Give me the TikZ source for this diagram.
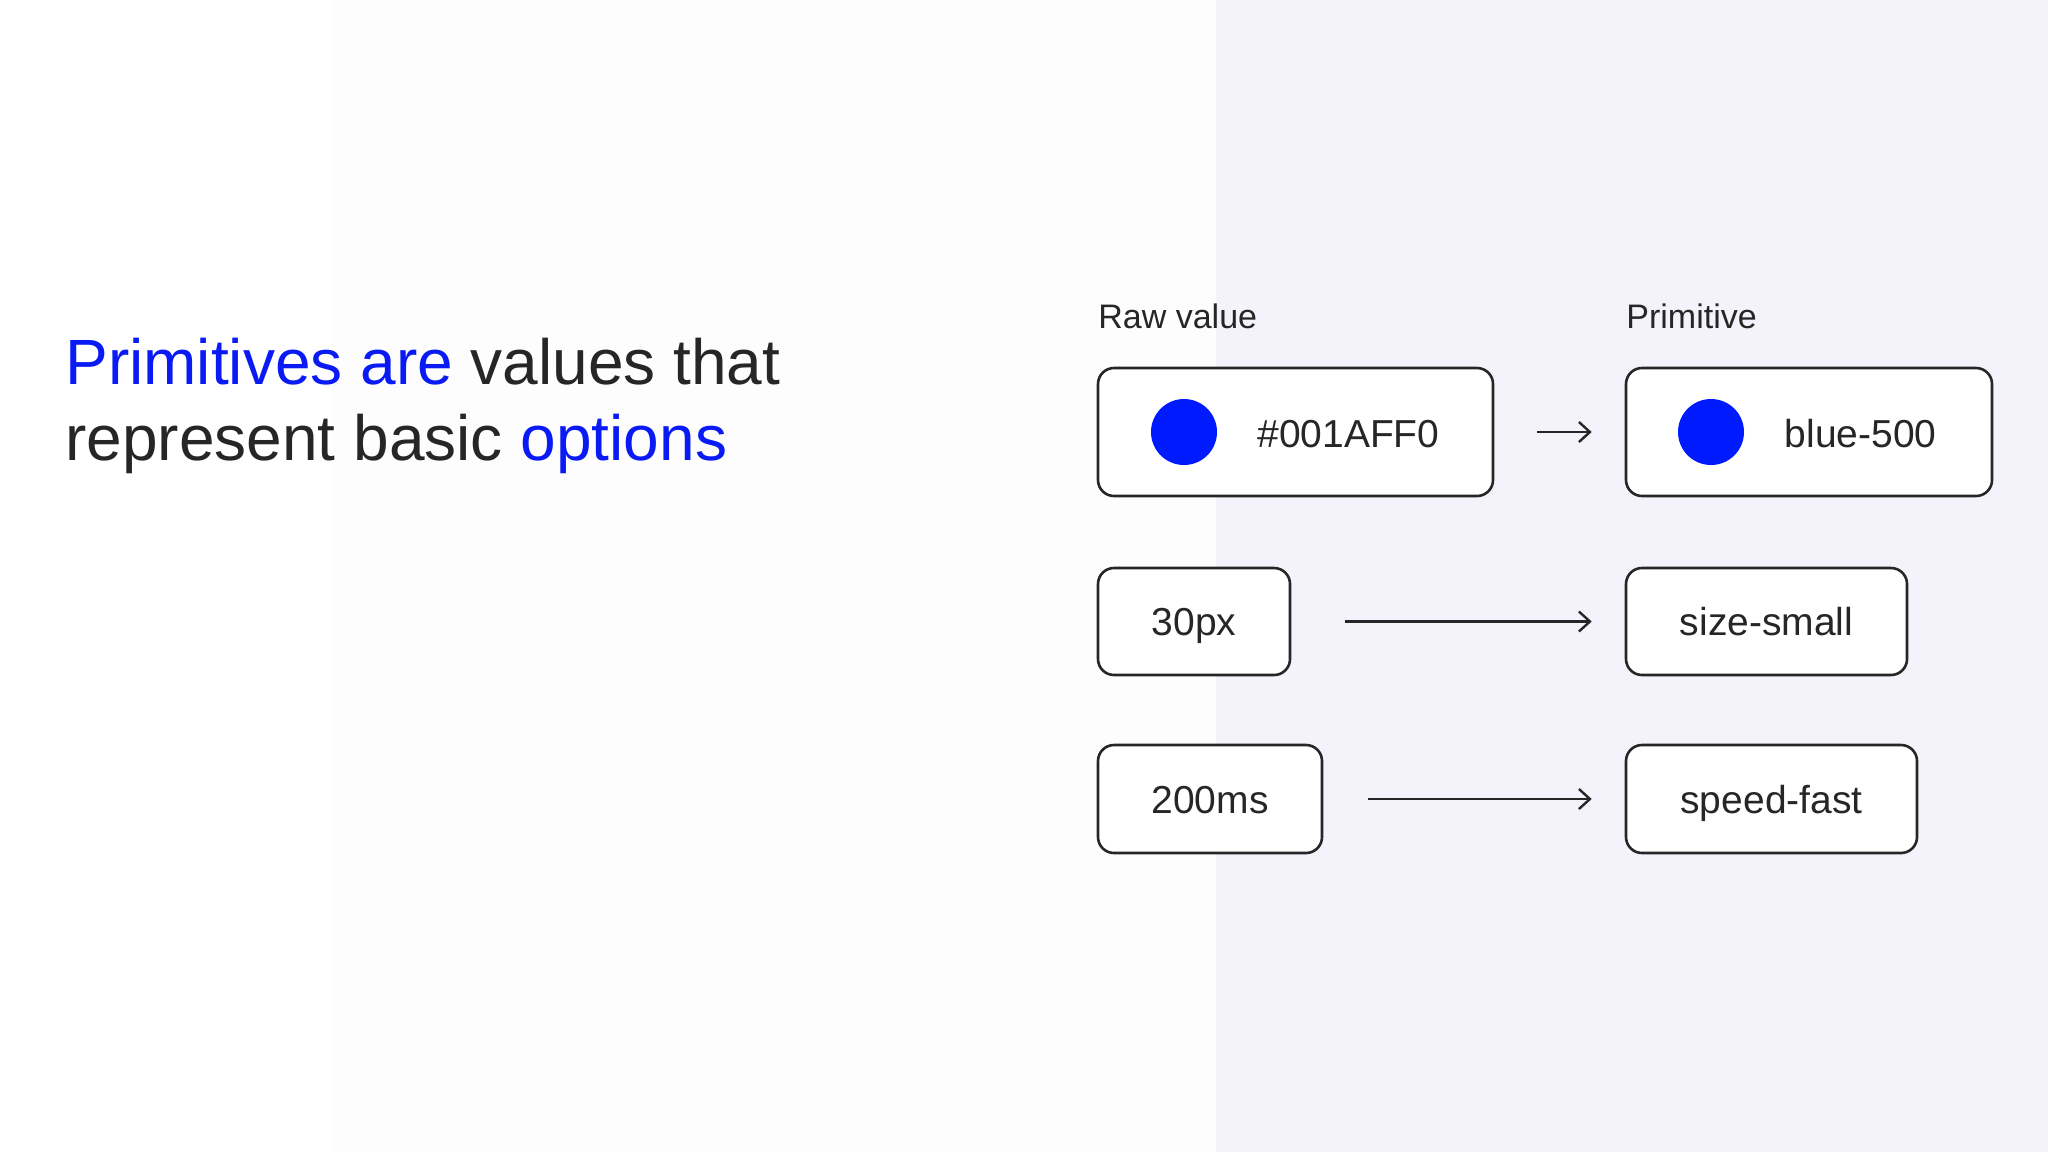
\documentclass[tikz,border=0pt]{standalone}
\usepackage{fontspec}
\setmainfont{Liberation Sans}
\usetikzlibrary{arrows.meta}
\definecolor{ink}{HTML}{262626}
\definecolor{brand}{HTML}{0A1AF5}
\definecolor{dot}{HTML}{001AFF}
\definecolor{panel}{HTML}{F4F3FB}
\definecolor{offwhite}{HTML}{FDFDFD}
\begin{document}
\begin{tikzpicture}[x=0.5pt,y=-0.5pt,
  box/.style={draw=ink, line width=1.3pt, rounded corners=8pt, fill=white, inner sep=0pt},
  boxtext/.style={font=\fontsize{19.5}{23}\selectfont, text=ink, inner sep=0pt},
  head/.style={font=\fontsize{17}{20}\selectfont, text=ink, inner sep=0pt, anchor=base west},
  title/.style={font=\fontsize{32}{38}\selectfont, text=ink, inner sep=0pt, anchor=base west},
  swatch/.style={circle, fill=dot, minimum size=33pt, inner sep=0pt},
  conn/.style={draw=ink, line width=1.2pt, -{Straight Barb[length=5.5pt,width=10pt,line width=1.2pt]}}]
\useasboundingbox (0,0) rectangle (2048,1152);
\fill[white] (0,0) rectangle (2048,1152);
\fill[offwhite] (332,0) rectangle (1216,1152);
\fill[panel] (1216,0) rectangle (2048,1152);

% title
\node[title] (t1) at (65,384) {\textcolor{brand}{Primitives are} values that};
\node[title] (t2) at (65,460) {represent basic \textcolor{brand}{options}};

% column heads
\node[head] (hraw) at (1098,328) {Raw value};
\node[head] (hprim) at (1626,328) {Primitive};

% boxes
\node[box, minimum width=197.5pt, minimum height=64pt] (b1) at (1295.5,432) {};
\node[box, minimum width=183pt, minimum height=64pt] (b2) at (1809,432) {};
\node[box, minimum width=96pt, minimum height=53.5pt] (b3) at (1194,621.5) {};
\node[box, minimum width=140.5pt, minimum height=53.5pt] (b4) at (1766.5,621.5) {};
\node[box, minimum width=112pt, minimum height=54pt] (b5) at (1210,799) {};
\node[box, minimum width=145.5pt, minimum height=54pt] (b6) at (1771.5,799) {};

% swatches
\node[swatch] (c1) at (1184,432) {};
\node[swatch] (c2) at (1711,432) {};

% box texts
\node[boxtext, anchor=base west] (l1) at (1257,447) {\#001AFF0};
\node[boxtext, anchor=base east] (l2) at (1937,447) {blue-500};
\node[boxtext, anchor=base] (l3) at (1194,635) {30px};
\node[boxtext, anchor=base] (l4) at (1766.5,635) {size-small};
\node[boxtext, anchor=base] (l5) at (1210,813) {200ms};
\node[boxtext, anchor=base] (l6) at (1771.5,813) {speed-fast};

% connectors
\draw[conn, shorten <=21.5pt, shorten >=16.5pt] (b1.east) -- (b2.west);
\draw[conn, shorten <=27pt, shorten >=16.5pt] (b3.east) -- (b4.west);
\draw[conn, shorten <=22.5pt, shorten >=16.5pt] (b5.east) -- (b6.west);
\end{tikzpicture}
\end{document}
